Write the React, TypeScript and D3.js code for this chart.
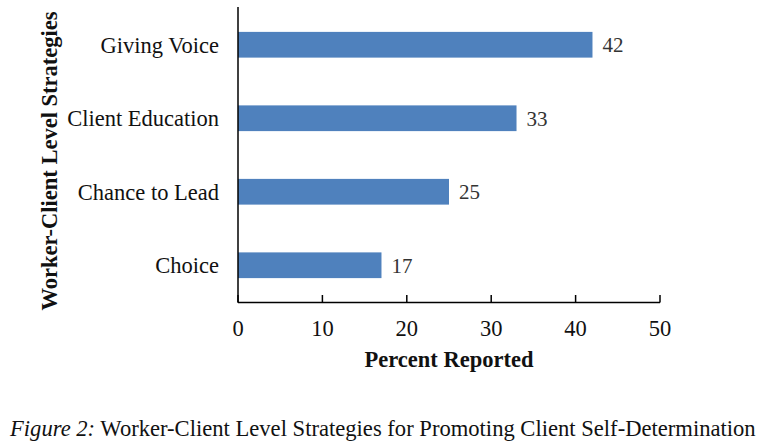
import React from "react";
import * as d3 from "d3";

const categories = ["Giving Voice", "Client Education", "Chance to Lead", "Choice"];
const values = [42, 33, 25, 17];
const xTicks = [0, 10, 20, 30, 40, 50];

export default function App() {
  const W = 768, H = 446;
  const x = d3.scaleLinear().domain([0, 50]).range([238, 660]);
  const y = d3.scaleBand<string>().domain(categories).range([8, 302]).paddingInner(0.65).paddingOuter(0.325);
  const font = "'Liberation Serif', 'Times New Roman', serif";
  return (
    <svg width={W} height={H} style={{ position: "absolute", left: 0, top: 0, background: "#fff" }} fontFamily={font}>
      {categories.map((c, i) => (
        <g key={c}>
          <rect x={x(0)} y={y(c)!} width={x(values[i]) - x(0)} height={y.bandwidth()} fill="#4F81BD" />
          <text x={x(values[i]) + 10} y={y(c)! + y.bandwidth() / 2} dy="0.35em" fontSize={21} fill="#333">{values[i]}</text>
          <text x={219} y={y(c)! + y.bandwidth() / 2} dy="0.35em" fontSize={22.5} textAnchor="end" fill="#111">{c}</text>
        </g>
      ))}
      <line x1={x(0)} x2={x(0)} y1={7} y2={302.5} stroke="#000" strokeWidth={1.5} />
      <line x1={x(0)} x2={x(50)} y1={302.5} y2={302.5} stroke="#000" strokeWidth={1.5} />
      {xTicks.map(t => (
        <g key={t}>
          <line x1={x(t)} x2={x(t)} y1={295} y2={302.5} stroke="#000" strokeWidth={1.5} />
          <text x={x(t)} y={336} fontSize={22.5} textAnchor="middle" fill="#111">{t}</text>
        </g>
      ))}
      <text x={449} y={367} fontSize={22.5} fontWeight="bold" textAnchor="middle" fill="#111">Percent Reported</text>
      <text transform="translate(57,161) rotate(-90)" fontSize={22.5} fontWeight="bold" textAnchor="middle" fill="#111">Worker-Client Level Strategies</text>
      <text x={10} y={436} fontSize={22.6} fill="#111">
        <tspan fontStyle="italic">Figure 2:</tspan> Worker-Client Level Strategies for Promoting Client Self-Determination
      </text>
    </svg>
  );
}
